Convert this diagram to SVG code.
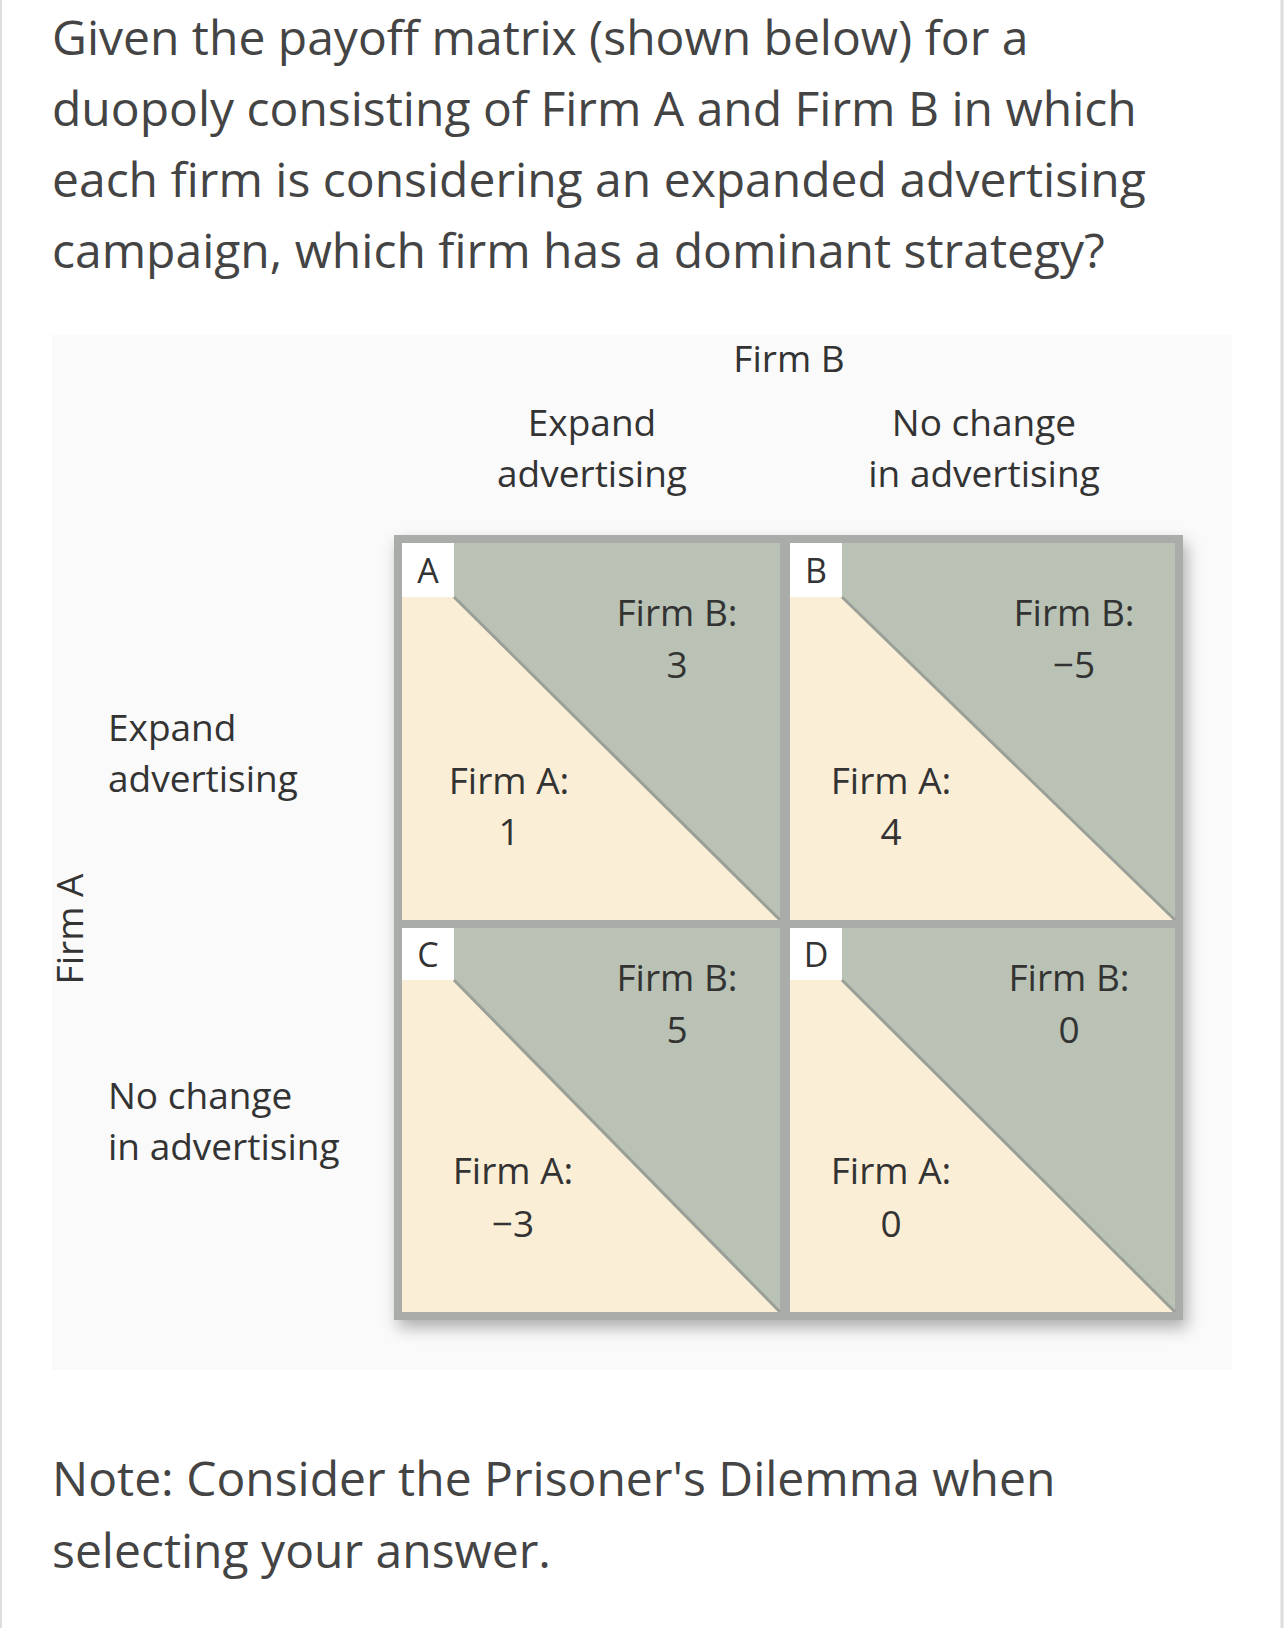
<svg xmlns="http://www.w3.org/2000/svg" width="1284" height="1628" viewBox="0 0 1284 1628">
<style>
.q{font-family:"Open Sans","Liberation Sans",sans-serif;font-size:48px;fill:#444}
.h{font-family:"Open Sans","Liberation Sans",sans-serif;font-size:37px;fill:#333;text-anchor:middle}
.l{font-family:"Open Sans","Liberation Sans",sans-serif;font-size:37px;fill:#333}
.g{fill:#b9c2b4}
.b{fill:#fbeed6}
.d{stroke:#9aa098;stroke-width:3}
.k{fill:#fff}
.kt{font-family:"Open Sans","Liberation Sans",sans-serif;font-size:34px;fill:#333;text-anchor:middle}
</style>
<defs><filter id="sh" x="-5%" y="-5%" width="115%" height="115%"><feDropShadow dx="4" dy="8" stdDeviation="8" flood-color="#000" flood-opacity="0.3"/></filter></defs>
<rect width="1284" height="1628" fill="#fff"/>
<line x1="1282" y1="0" x2="1282" y2="1628" stroke="#ddd" stroke-width="3"/>
<line x1="1" y1="0" x2="1" y2="1628" stroke="#ddd" stroke-width="2"/>
<g id="question">
<text class="q" x="52" y="55">Given the payoff matrix (shown below) for a</text>
<text class="q" x="52" y="126">duopoly consisting of Firm A and Firm B in which</text>
<text class="q" x="52" y="197">each firm is considering an expanded advertising</text>
<text class="q" x="52" y="268">campaign, which firm has a dominant strategy?</text>
</g>
<rect x="52" y="335" width="1180" height="1035" fill="#fafafa"/>
<g id="headers">
<text class="h" x="789" y="372">Firm B</text>
<text class="h" x="592" y="436">Expand</text>
<text class="h" x="592" y="487">advertising</text>
<text class="h" x="984" y="436">No change</text>
<text class="h" x="984" y="487">in advertising</text>
<text class="l" x="108" y="741">Expand</text>
<text class="l" x="108" y="792">advertising</text>
<text class="l" x="108" y="1109">No change</text>
<text class="l" x="108" y="1160">in advertising</text>
<text class="h" transform="translate(83,929) rotate(-90)">Firm A</text>
</g>
<rect x="394" y="535" width="789" height="785" fill="#a9aca8" filter="url(#sh)"/>
<g id="cellA">
<rect class="g" x="402" y="543" width="378" height="377"/>
<polygon class="b" points="402,597 454,597 780,920 402,920"/>
<line class="d" x1="454" y1="597" x2="780" y2="920"/>
<rect class="k" x="402" y="543" width="52" height="54"/>
<text class="kt" x="428" y="583">A</text>
<text class="h" x="677" y="626">Firm B:</text><text class="h" x="677" y="678">3</text>
<text class="h" x="509" y="794">Firm A:</text><text class="h" x="509" y="845">1</text>
</g>
<g id="cellB">
<rect class="g" x="790" y="543" width="385" height="377"/>
<polygon class="b" points="790,597 842,597 1175,920 790,920"/>
<line class="d" x1="842" y1="597" x2="1175" y2="920"/>
<rect class="k" x="790" y="543" width="52" height="54"/>
<text class="kt" x="816" y="583">B</text>
<text class="h" x="1074" y="626">Firm B:</text><text class="h" x="1074" y="678">−5</text>
<text class="h" x="891" y="794">Firm A:</text><text class="h" x="891" y="845">4</text>
</g>
<g id="cellC">
<rect class="g" x="402" y="928" width="378" height="384"/>
<polygon class="b" points="402,980 454,980 780,1312 402,1312"/>
<line class="d" x1="454" y1="980" x2="780" y2="1312"/>
<rect class="k" x="402" y="928" width="52" height="52"/>
<text class="kt" x="428" y="967">C</text>
<text class="h" x="677" y="991">Firm B:</text><text class="h" x="677" y="1043">5</text>
<text class="h" x="513" y="1184">Firm A:</text><text class="h" x="513" y="1237">−3</text>
</g>
<g id="cellD">
<rect class="g" x="790" y="928" width="385" height="384"/>
<polygon class="b" points="790,980 842,980 1175,1312 790,1312"/>
<line class="d" x1="842" y1="980" x2="1175" y2="1312"/>
<rect class="k" x="790" y="928" width="52" height="52"/>
<text class="kt" x="816" y="967">D</text>
<text class="h" x="1069" y="991">Firm B:</text><text class="h" x="1069" y="1043">0</text>
<text class="h" x="891" y="1184">Firm A:</text><text class="h" x="891" y="1237">0</text>
</g>
<g id="connectors"></g>
<g id="note">
<text class="q" x="52" y="1496">Note: Consider the Prisoner's Dilemma when</text>
<text class="q" x="52" y="1568">selecting your answer.</text>
</g>
</svg>
